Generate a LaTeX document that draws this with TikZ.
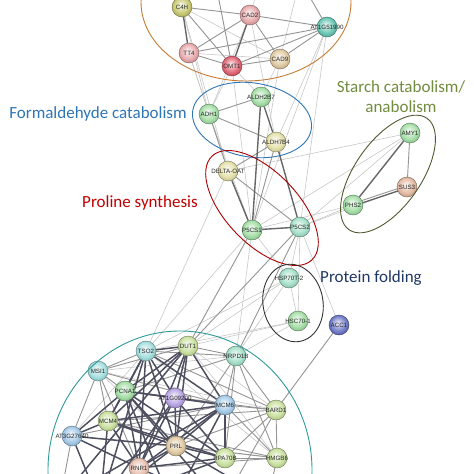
\documentclass[tikz,border=0pt]{standalone}
\usepackage{fontspec}
\setmainfont{Carlito}
\newfontfamily\genefont{Liberation Sans}
\usetikzlibrary{backgrounds}
\definecolor{cYel}{HTML}{C4C468}
\definecolor{cPink}{HTML}{E6A3A6}
\definecolor{cTeal}{HTML}{5EC2AE}
\definecolor{cRed}{HTML}{E05A6A}
\definecolor{cTan}{HTML}{DEC69C}
\definecolor{cGrn}{HTML}{9EDCA0}
\definecolor{cPaleY}{HTML}{E2DEA4}
\definecolor{cMint}{HTML}{9EDEC6}
\definecolor{cPeach}{HTML}{E2B49C}
\definecolor{cInd}{HTML}{6470C4}
\definecolor{cCyan}{HTML}{9EDCDC}
\definecolor{cYG}{HTML}{C6DE98}
\definecolor{cLav}{HTML}{B29EE2}
\definecolor{cLBlue}{HTML}{9EC6E6}
\definecolor{cBeige}{HTML}{E6BCAA}
\definecolor{txBlue}{HTML}{2E75B6}
\definecolor{txRed}{HTML}{C00000}
\definecolor{txOlive}{HTML}{718C3E}
\definecolor{elOlive}{HTML}{4F5A2F}
\definecolor{txNavy}{HTML}{1F3864}
\definecolor{elOrange}{HTML}{C57B33}
\definecolor{elTeal}{HTML}{2E9A9A}
\definecolor{edgeDark}{HTML}{3A3D4E}
\colorlet{gcol}{gray}
\pgfdeclareradialshading[gcol]{gsphere}{\pgfpoint{-3bp}{6bp}}{%
  color(0bp)=(gcol!10!white); color(8bp)=(gcol!45!white); color(18bp)=(gcol!85!white);
  color(25bp)=(gcol!92!black); color(50bp)=(gcol!92!black)}
\pgfdeclarelayer{fg}
\pgfsetlayers{background,main,fg}
\begin{document}
\begin{tikzpicture}[x=1pt,y=-1pt,
  gene/.style={circle, minimum size=20pt, inner sep=0pt, draw=#1!55!black, line width=0.4pt,
    /utils/exec={\colorlet{gcol}{#1}}, shading=gsphere, shade},
  glabel/.style={font=\genefont\fontsize{6.2}{7}\selectfont, text=black!85, inner sep=0pt},
  lite/.style={draw=black!22, line width=0.6pt},
  mid/.style={draw=black!42, line width=0.9pt},
  dark/.style={draw=black!60, line width=1.4pt},
  vdark/.style={draw=edgeDark!90, line width=1.5pt},
  grp/.style={line width=0.9pt},
  ttl/.style={font=\fontsize{17}{20}\selectfont, inner sep=0pt, align=center}]
\useasboundingbox (0,0) rectangle (474,474);
\clip (0,0) rectangle (474,474);
\newcommand\gene[5]{\node[gene=#4] (#1) at (#2,#3) {};
  \begin{pgfonlayer}{fg}\node[glabel] (#1-t) at (#1.center) {#5};\end{pgfonlayer}}
% genes
\gene{C4H}{182}{7}{cYel}{C4H}
\gene{CAD2}{250}{15}{cPink}{CAD2}
\gene{AT1G51990}{327}{27}{cTeal}{AT1G51990}
\gene{TT4}{189}{53}{cPink}{TT4}
\gene{OMT1}{232}{66}{cRed}{OMT1}
\gene{CAD9}{280}{59}{cTan}{CAD9}
\gene{ALDH2B7}{261}{97}{cGrn}{ALDH2B7}
\gene{ADH1}{209}{114}{cGrn}{ADH1}
\gene{ALDH7B4}{276}{142}{cPaleY}{ALDH7B4}
\gene{DELTAOAT}{228}{171}{cPaleY}{DELTA-OAT}
\gene{PCSa}{252}{230}{cGrn}{P5CS1}
\gene{PCSb}{300}{227}{cMint}{P5CS2}
\gene{AMY1}{410}{133}{cGrn}{AMY1}
\gene{SUS3}{407}{187}{cPeach}{SUS3}
\gene{PHS2}{353}{205}{cGrn}{PHS2}
\gene{HSP}{289}{278}{cMint}{HSP70T-2}
\gene{HSC}{298}{321}{cGrn}{HSC70-1}
\gene{ACC1}{339}{325}{cInd}{ACC1}
\gene{TSO2}{146}{351}{cCyan}{TSO2}
\gene{DUT1}{188}{346}{cYG}{DUT1}
\gene{NRPD1B}{236}{356}{cMint}{NRPD1B}
\gene{MSI1}{98}{371}{cCyan}{MSI1}
\gene{PCNA1}{125}{391}{cGrn}{PCNA1}
\gene{ATA}{175}{398}{cLav}{AT1G09200}
\gene{MCM6}{225}{405}{cLBlue}{MCM6}
\gene{BARD1}{276}{410}{cYG}{BARD1}
\gene{MCM4}{108}{421}{cYG}{MCM4}
\gene{ATB}{72}{436}{cLBlue}{AT3G27640}
\gene{PRL}{176}{446}{cTan}{PRL}
\gene{RPA}{225}{458}{cYG}{RPA70B}
\gene{HMGB6}{277}{458}{cYG}{HMGB6}
\gene{RNR1}{139}{468}{cBeige}{RNR1}
% off-picture partners
\coordinate (u1) at (214,-25);
\coordinate (u2) at (262,-25);
\coordinate (u3) at (300,-20);
\coordinate (u4) at (195,-30);
\coordinate (d1) at (100,505);
\coordinate (d2) at (172,505);
\coordinate (d3) at (222,505);
\coordinate (d4) at (268,500);
\coordinate (d5) at (60,500);
\begin{scope}[on background layer]
\foreach \a/\b in {C4H/ADH1,C4H/DELTAOAT,TT4/ADH1,TT4/DELTAOAT,OMT1/ALDH2B7,OMT1/ADH1,OMT1/PCSa,
  CAD9/ALDH2B7,CAD9/PCSa,CAD2/ALDH7B4,AT1G51990/ALDH7B4,AT1G51990/PCSb,AT1G51990/PCSa,CAD2/u2,C4H/u4,
  CAD9/u3,TT4/CAD9,C4H/CAD9,CAD2/ADH1,ADH1/PCSa,
  AMY1/PCSa,AMY1/PCSb,PHS2/PCSa,PHS2/PCSb,SUS3/PCSb,AMY1/DELTAOAT,
  PCSb/HSP,PCSb/HSC,PCSa/HSP,PCSb/ACC1,PCSa/NRPD1B,DELTAOAT/TSO2,HSP/HSC,HSP/DUT1,HSC/DUT1,
  HSC/TSO2,HSP/NRPD1B,HSC/NRPD1B,PCSa/TSO2,HSP/TSO2,
  BARD1/DUT1,HMGB6/DUT1,HMGB6/TSO2,ATB/TSO2,MSI1/PRL,MSI1/NRPD1B,ATB/HMGB6,MSI1/BARD1}
  \draw[lite] (\a) -- (\b);
\foreach \a/\b in {C4H/OMT1,CAD2/TT4,CAD2/CAD9,CAD2/AT1G51990,AT1G51990/OMT1,AT1G51990/TT4,
  AT1G51990/CAD9,TT4/OMT1,OMT1/CAD9,C4H/CAD2,AT1G51990/u3,OMT1/u1,
  ADH1/ALDH2B7,ADH1/ALDH7B4,ADH1/DELTAOAT,ALDH7B4/PCSa,ALDH7B4/DELTAOAT,DELTAOAT/PCSb,
  AMY1/SUS3,PCSa/DUT1,PCSb/DUT1,PCSb/NRPD1B,ACC1/BARD1,
  BARD1/MCM6,BARD1/PCNA1,BARD1/RPA,BARD1/HMGB6,BARD1/PRL,HMGB6/RPA,HMGB6/PRL,HMGB6/MCM6,
  NRPD1B/MCM6,NRPD1B/BARD1,NRPD1B/PCNA1,NRPD1B/PRL,NRPD1B/RPA,NRPD1B/HMGB6,NRPD1B/DUT1,NRPD1B/TSO2,
  MSI1/PCNA1,MSI1/TSO2,MSI1/MCM4,MSI1/ATB,MSI1/DUT1,MSI1/MCM6,HMGB6/d4,BARD1/d3,HMGB6/MCM4,
  BARD1/MCM4,BARD1/TSO2,MSI1/RNR1,ATB/MCM6,ATB/d5,HMGB6/RNR1}
  \draw[mid] (\a) -- (\b);
\foreach \a/\b in {C4H/TT4,CAD2/OMT1,ALDH2B7/ALDH7B4,ALDH2B7/PCSa,ALDH7B4/PCSb,DELTAOAT/PCSa,PCSa/PCSb,
  AMY1/PHS2}
  \draw[dark] (\a) -- (\b);
\draw[dark] ([yshift=-1pt]SUS3.center) -- ([yshift=-1pt]PHS2.center);
\draw[mid] ([yshift=1.5pt]SUS3.center) -- ([yshift=1.5pt]PHS2.center);
\foreach \a/\b in {PCNA1/MCM4,PCNA1/MCM6,PCNA1/ATA,PCNA1/PRL,PCNA1/RPA,PCNA1/RNR1,PCNA1/TSO2,PCNA1/DUT1,PCNA1/d2,
  MCM4/MCM6,MCM4/PRL,MCM4/RPA,MCM4/RNR1,MCM4/ATB,MCM4/d1,
  MCM6/PRL,MCM6/RPA,MCM6/RNR1,MCM6/ATA,MCM6/d2,
  ATA/PRL,ATA/RNR1,ATA/RPA,ATA/d1,
  TSO2/MCM4,TSO2/RNR1,TSO2/PRL,TSO2/MCM6,TSO2/ATA,TSO2/d1,
  DUT1/RNR1,DUT1/MCM4,DUT1/PRL,DUT1/MCM6,DUT1/TSO2,DUT1/ATA,DUT1/d5,
  PRL/RPA,PRL/RNR1,RPA/RNR1,ATB/PRL,ATB/RNR1,ATB/PCNA1,ATB/d1,
  RNR1/d3,PRL/d1,RPA/d1,PRL/d4,MCM6/d5,PCNA1/d3}
  \draw[vdark] (\a) -- (\b);
\end{scope}
% group outlines
\draw[grp, elOrange] (246,2) ellipse [x radius=105, y radius=79];
\draw[grp, txBlue, rotate around={-9:(252,120)}] (252,120) ellipse [x radius=60, y radius=37];
\draw[grp, txRed!90!black, rotate around={-46:(262,208)}] (262,208) ellipse [x radius=72, y radius=36];
\draw[grp, elOlive, rotate around={55:(388,174)}] (388,174) ellipse [x radius=68, y radius=33];
\draw[grp, black!80, rotate around={10:(293,303)}] (293,303) ellipse [x radius=30, y radius=39];
\draw[grp, elTeal] (180,470) ellipse [x radius=132, y radius=139];
% titles
\node[ttl, text=txBlue] (tForm) at (98,114) {Formaldehyde catabolism};
\node[ttl, text=txRed] (tPro) at (140,203) {Proline synthesis};
\node[ttl, text=txOlive] (tStarch) at (401,97) {Starch catabolism/\\anabolism};
\node[ttl, text=txNavy] (tFold) at (371,278) {Protein folding};
\end{tikzpicture}
\end{document}
